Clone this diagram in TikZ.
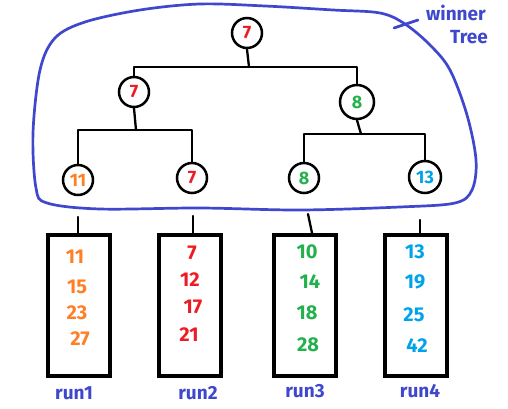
\documentclass[tikz,border=0pt]{standalone}
\usepackage{fontspec}
\setmainfont{Fira Sans}
\definecolor{pred}{RGB}{237,28,36}
\definecolor{porange}{RGB}{255,127,39}
\definecolor{pgreen}{RGB}{34,177,76}
\definecolor{pcyan}{RGB}{0,162,232}
\definecolor{pblue}{RGB}{63,72,204}
\begin{document}
\begin{tikzpicture}[x=1pt,y=-1pt,
  tnode/.style={circle,draw=black,line width=2.5pt,minimum size=30pt,inner sep=0pt,font=\bfseries\fontsize{18}{18}\selectfont},
  runbox/.style={draw=black,line width=4pt,minimum width=62pt,minimum height=141pt,inner sep=0pt},
  edge/.style={draw=black,line width=2.3pt,line cap=round,line join=round},
  num/.style={font=\bfseries\fontsize{20}{20}\selectfont,inner sep=0pt},
  lbl/.style={text=pblue,font=\bfseries\fontsize{19}{19}\selectfont,inner sep=0pt}]
\useasboundingbox (0,0) rectangle (508,409);
% cloud
\draw[pblue,line width=2.7pt] plot[smooth cycle,tension=0.55] coordinates {
 (55,38) (85,22) (140,10) (200,4) (265,6) (333,10) (380,13) (405,24) (430,45) (450,70)
 (467,115) (476,160) (472,190) (455,203) (400,207) (300,210) (200,208) (100,209)
 (47,203) (36,188) (33,133) (40,70)};
\draw[pblue,line width=2.7pt,line cap=round] (394,28) -- (418,20);
\node[lbl] (win) at (456,13) {winner};
\node[lbl] (tree) at (469,37) {Tree};
% tree nodes
\node[tnode,text=pred] (root) at (247,33) {7};
\node[tnode,text=pred] (L1) at (134,92) {7};
\node[tnode,text=pgreen,minimum size=34pt] (R1) at (357,102) {8};
\node[tnode,text=porange] (A) at (78,180) {11};
\node[tnode,text=pred] (B) at (192,178) {7};
\node[tnode,text=pgreen] (C) at (304,178) {8};
\node[tnode,text=pcyan,minimum size=32pt] (D) at (425,177) {13};
\coordinate (b0) at (249,67);
\coordinate (b1) at (136,130);
\coordinate (b2) at (361,134);
\draw[edge] (root.south) -- (b0);
\draw[edge] (L1.north) |- (b0) -| (R1.north);
\draw[edge] (L1.south) -- (b1);
\draw[edge] (A.north) |- (b1) -| (B.north);
\draw[edge] (R1.south) -- (b2);
\draw[edge] (C.north) |- (b2) -| (D.north);
% run boxes
\node[runbox] (r1) at (78.5,305) {};
\node[runbox] (r2) at (189.5,305) {};
\node[runbox] (r3) at (304.5,305) {};
\node[runbox] (r4) at (415.5,305) {};
\coordinate (t1) at (78,217);
\coordinate (t2) at (193,216);
\coordinate (t3) at (308,214);
\coordinate (t4) at (420,220);
\draw[edge] (t1) -- (t1 |- r1.north);
\draw[edge] (t2) -- (t2 |- r2.north);
\draw[edge] (t3) -- (312,233);
\draw[edge] (t4) -- (t4 |- r4.north);
% numbers
\node[num,text=porange] (n11) at (75,257) {11};
\node[num,text=porange] (n12) at (77,287) {15};
\node[num,text=porange] (n13) at (77,313) {23};
\node[num,text=porange] (n14) at (80,339) {27};
\node[num,text=pred] (n21) at (192,253) {7};
\node[num,text=pred] (n22) at (190,280) {12};
\node[num,text=pred] (n23) at (193,307) {17};
\node[num,text=pred] (n24) at (189,335) {21};
\node[num,text=pgreen] (n31) at (307,252) {10};
\node[num,text=pgreen] (n32) at (310,282) {14};
\node[num,text=pgreen] (n33) at (307,313) {18};
\node[num,text=pgreen] (n34) at (308,345) {28};
\node[num,text=pcyan] (n41) at (415,252) {13};
\node[num,text=pcyan] (n42) at (415,282) {19};
\node[num,text=pcyan] (n43) at (414,315) {25};
\node[num,text=pcyan] (n44) at (417,346) {42};
% labels
\node[lbl] (l1) at (74,393) {run1};
\node[lbl] (l2) at (198,393) {run2};
\node[lbl] (l3) at (305,391) {run3};
\node[lbl] (l4) at (420,391) {run4};
\end{tikzpicture}
\end{document}
